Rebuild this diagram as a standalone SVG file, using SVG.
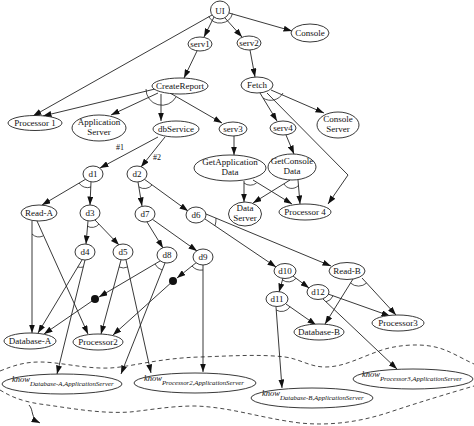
<svg xmlns="http://www.w3.org/2000/svg" width="474" height="426" viewBox="0 0 474 426">
<defs>
<marker id="ah" markerUnits="userSpaceOnUse" markerWidth="9" markerHeight="6" refX="8.5" refY="3" orient="auto">
<path d="M0,0 L8.5,3 L0,6 z" fill="#111"/>
</marker>
<style>
.n ellipse{fill:#fff;stroke:#222;stroke-width:0.9}
text{font-family:"Liberation Serif","Times New Roman",serif;font-size:9px;fill:#111;text-anchor:middle}
.e line,.e polyline,.e path.a{stroke:#222;stroke-width:0.9;fill:none;marker-end:url(#ah)}
.e path.arc{stroke:#222;stroke-width:0.8;fill:none}
.e path.p{stroke:#222;stroke-width:0.9;fill:none}
.dash{stroke:#333;stroke-width:0.9;fill:none;stroke-dasharray:4,3}
.k{font-style:italic;font-size:8.5px;text-anchor:start}
.k tspan{font-size:6.8px}
.lab{font-size:8px}
</style>
</defs>
<rect width="474" height="426" fill="#fff"/>
<path class="dash" d="M0,371 C15,365 25,362 40,362 C60,362 85,369 110,368 C130,367 160,358 200,357 C230,356 260,354 285,357 C300,359 310,367 325,367 C345,367 360,357 385,349 C400,345 425,342 445,350 C455,354 465,360 474,364"/>
<path class="dash" d="M0,390 C10,396 20,401 40,404 C70,408 100,414 130,412 C150,410 170,406 195,406 C230,407 260,418 300,423 C330,426 360,422 390,412 C420,402 450,393 474,386"/>
<g class="e" id="connectors">
<line x1="214" y1="17" x2="204" y2="37"/>
<line x1="225" y1="18" x2="242" y2="37"/>
<line x1="229" y1="13" x2="292" y2="31"/>
<line x1="212" y1="15" x2="33" y2="116"/>
<line x1="197" y1="51" x2="184" y2="78"/>
<line x1="250" y1="50" x2="255" y2="77"/>
<line x1="155" y1="89" x2="43" y2="116"/>
<line x1="158" y1="93" x2="111" y2="115"/>
<line x1="161" y1="94" x2="161" y2="121"/>
<line x1="170" y1="93" x2="222" y2="123"/>
<line x1="260" y1="93" x2="277" y2="121"/>
<line x1="271" y1="90" x2="324" y2="113"/>
<polyline points="267,93 348,175 328,204"/>
<line x1="234" y1="136" x2="234" y2="155"/>
<line x1="286" y1="135" x2="294" y2="154"/>
<line x1="244" y1="181" x2="244" y2="202"/>
<line x1="253" y1="180" x2="292" y2="204"/>
<line x1="290" y1="180" x2="253" y2="203"/>
<line x1="298" y1="180" x2="300" y2="204"/>
<line x1="158" y1="137" x2="100" y2="168"/>
<line x1="165" y1="137" x2="141" y2="167"/>
<line x1="86" y1="179" x2="42" y2="205"/>
<line x1="91" y1="182" x2="90" y2="205"/>
<line x1="138" y1="182" x2="142" y2="206"/>
<line x1="144" y1="179" x2="188" y2="211"/>
<line x1="32" y1="221" x2="32" y2="333"/>
<line x1="37" y1="221" x2="88" y2="334"/>
<line x1="88" y1="221" x2="86" y2="244"/>
<line x1="95" y1="220" x2="119" y2="245"/>
<line x1="82" y1="260" x2="38" y2="333"/>
<line x1="85" y1="260" x2="57" y2="374"/>
<line x1="121" y1="260" x2="101" y2="334"/>
<line x1="126" y1="260" x2="151" y2="373"/>
<line x1="147" y1="222" x2="163" y2="248"/>
<line x1="152" y1="219" x2="197" y2="251"/>
<line x1="160" y1="261" x2="99" y2="297"/>
<line x1="95" y1="299" x2="44" y2="334"/>
<line x1="165" y1="263" x2="121" y2="374"/>
<line x1="197" y1="262" x2="177" y2="278"/>
<line x1="173" y1="281" x2="113" y2="335"/>
<line x1="203" y1="265" x2="203" y2="372"/>
<line x1="205" y1="219" x2="276" y2="267"/>
<line x1="206" y1="214" x2="331" y2="266"/>
<line x1="283" y1="278" x2="279" y2="292"/>
<line x1="293" y1="276" x2="309" y2="288"/>
<line x1="353" y1="279" x2="325" y2="324"/>
<line x1="362" y1="278" x2="396" y2="315"/>
<line x1="286" y1="304" x2="316" y2="325"/>
<line x1="276" y1="307" x2="282" y2="388"/>
<line x1="328" y1="294" x2="390" y2="316"/>
<line x1="323" y1="299" x2="397" y2="369"/>
<path class="a" d="M29,405 C34,410 30,418 40,423"/>
<path class="arc" d="M208.7,16.5 A13,13 0 0 0 232.5,13.6"/>
<path class="arc" d="M146,89 A16,16 0 0 0 176,97"/>
<path class="arc" d="M263,98 A14,14 0 0 0 283,93"/>
<path class="arc" d="M244,183 A10,10 0 0 0 256.5,183"/>
<path class="arc" d="M284,184 A9,9 0 0 0 298.4,185.5"/>
<path class="arc" d="M79,183 A10,10 0 0 0 91,187"/>
<path class="arc" d="M139,187 A10,10 0 0 0 152,185"/>
<path class="arc" d="M32,234 A10,10 0 0 0 43,236"/>
<path class="arc" d="M87,226 A9,9 0 0 0 99,224"/>
<path class="arc" d="M77.8,267 A10,10 0 0 0 83.3,267"/>
<path class="arc" d="M119.1,267 A10,10 0 0 0 127.5,267"/>
<path class="arc" d="M155,264 A12,12 0 0 0 162,270"/>
<path class="arc" d="M192,266 A12,12 0 0 0 203,270"/>
<path class="arc" d="M215,225.8 A22,22 0 0 0 216,218"/>
<path class="arc" d="M282.4,280 A10,10 0 0 0 296,278.3"/>
<path class="arc" d="M276.2,310 A10,10 0 0 0 290,306.8"/>
<path class="arc" d="M326,301.8 A10,10 0 0 0 333,295.8"/>
<path class="arc" d="M350.5,283 A12,12 0 0 0 366.6,283"/>
<circle cx="95" cy="299" r="4" fill="#111"/>
<circle cx="173" cy="281" r="4" fill="#111"/>
<text class="lab" x="120" y="150">#1</text>
<text class="lab" x="157" y="160">#2</text>
</g>
<g class="n" id="n-ui"><ellipse cx="220" cy="10" rx="9.5" ry="9"/><text x="220" y="13.5">UI</text></g>
<g class="n" id="n-console"><ellipse cx="310" cy="33" rx="19" ry="9"/><text x="310" y="36">Console</text></g>
<g class="n" id="n-serv1"><ellipse cx="200" cy="44" rx="12" ry="7"/><text x="200" y="47">serv1</text></g>
<g class="n" id="n-serv2"><ellipse cx="249" cy="43" rx="12" ry="7"/><text x="249" y="46">serv2</text></g>
<g class="n" id="n-createreport"><ellipse cx="180" cy="86" rx="28" ry="8"/><text x="180" y="89">CreateReport</text></g>
<g class="n" id="n-fetch"><ellipse cx="257" cy="85" rx="16" ry="8"/><text x="257" y="88">Fetch</text></g>
<g class="n" id="n-processor1"><ellipse cx="35" cy="123" rx="27" ry="7.5"/><text x="35" y="126">Processor 1</text></g>
<g class="n" id="n-appserver"><ellipse cx="99" cy="128" rx="27" ry="13"/><text x="99" y="125">Application</text><text x="99" y="135">Server</text></g>
<g class="n" id="n-dbservice"><ellipse cx="176" cy="129" rx="23" ry="8"/><text x="176" y="132">dbService</text></g>
<g class="n" id="n-serv3"><ellipse cx="233" cy="129" rx="14" ry="7"/><text x="233" y="132">serv3</text></g>
<g class="n" id="n-serv4"><ellipse cx="283" cy="128" rx="13" ry="7"/><text x="283" y="131">serv4</text></g>
<g class="n" id="n-consoleserver"><ellipse cx="338" cy="125" rx="21" ry="13"/><text x="338" y="122">Console</text><text x="338" y="132">Server</text></g>
<g class="n" id="n-getappdata"><ellipse cx="230" cy="168" rx="36" ry="13"/><text x="230" y="165">GetApplication</text><text x="230" y="175">Data</text></g>
<g class="n" id="n-getconsoledata"><ellipse cx="292" cy="167" rx="24" ry="13"/><text x="292" y="164">GetConsole</text><text x="292" y="174">Data</text></g>
<g class="n" id="n-dataserver"><ellipse cx="245" cy="214" rx="16.5" ry="12"/><text x="245" y="211">Data</text><text x="245" y="221">Server</text></g>
<g class="n" id="n-processor4"><ellipse cx="305" cy="212" rx="26" ry="8"/><text x="305" y="215">Processor 4</text></g>
<g class="n" id="n-d1"><ellipse cx="93" cy="174" rx="10" ry="8"/><text x="93" y="177">d1</text></g>
<g class="n" id="n-d2"><ellipse cx="137" cy="174" rx="10" ry="8"/><text x="137" y="177">d2</text></g>
<g class="n" id="n-reada"><ellipse cx="39" cy="213" rx="18" ry="8"/><text x="39" y="216">Read-A</text></g>
<g class="n" id="n-d3"><ellipse cx="90" cy="213" rx="10" ry="8"/><text x="90" y="216">d3</text></g>
<g class="n" id="n-d7"><ellipse cx="145" cy="214" rx="10" ry="8"/><text x="145" y="217">d7</text></g>
<g class="n" id="n-d6"><ellipse cx="196" cy="215" rx="10" ry="8"/><text x="196" y="218">d6</text></g>
<g class="n" id="n-d4"><ellipse cx="85" cy="252" rx="10" ry="8"/><text x="85" y="255">d4</text></g>
<g class="n" id="n-d5"><ellipse cx="123" cy="252" rx="10" ry="8"/><text x="123" y="255">d5</text></g>
<g class="n" id="n-d8"><ellipse cx="167" cy="255" rx="10" ry="8"/><text x="167" y="258">d8</text></g>
<g class="n" id="n-d9"><ellipse cx="203" cy="257" rx="10" ry="8"/><text x="203" y="260">d9</text></g>
<g class="n" id="n-databasea"><ellipse cx="30" cy="341" rx="26" ry="8"/><text x="30" y="344">Database-A</text></g>
<g class="n" id="n-processor2"><ellipse cx="98" cy="342" rx="25" ry="8"/><text x="98" y="345">Processor2</text></g>
<g class="n" id="n-d10"><ellipse cx="285" cy="271" rx="11" ry="7.5"/><text x="285" y="274">d10</text></g>
<g class="n" id="n-readb"><ellipse cx="347" cy="271" rx="18" ry="8.5"/><text x="347" y="274">Read-B</text></g>
<g class="n" id="n-d11"><ellipse cx="277" cy="299" rx="11" ry="7.5"/><text x="277" y="302">d11</text></g>
<g class="n" id="n-d12"><ellipse cx="318" cy="292" rx="11" ry="7.5"/><text x="318" y="295">d12</text></g>
<g class="n" id="n-databaseb"><ellipse cx="319" cy="332" rx="25" ry="8"/><text x="319" y="335">Database-B</text></g>
<g class="n" id="n-processor3"><ellipse cx="398" cy="323" rx="26" ry="8"/><text x="398" y="326">Processor3</text></g>
<g class="n" id="n-know-dba"><ellipse cx="62" cy="384" rx="60" ry="10"/><text class="k" x="12" y="382">know<tspan dy="4">Database-A,ApplicationServer</tspan></text></g>
<g class="n" id="n-know-p2"><ellipse cx="195" cy="383" rx="61" ry="10"/><text class="k" x="144" y="381">know<tspan dy="4">Processor2,ApplicationServer</tspan></text></g>
<g class="n" id="n-know-dbb"><ellipse cx="312" cy="398" rx="61" ry="10"/><text class="k" x="262" y="396">know<tspan dy="4">Database-B,ApplicationServer</tspan></text></g>
<g class="n" id="n-know-p3"><ellipse cx="413" cy="379" rx="60" ry="10"/><text class="k" x="362" y="377">know<tspan dy="4">Processor3,ApplicationServer</tspan></text></g>
</svg>
